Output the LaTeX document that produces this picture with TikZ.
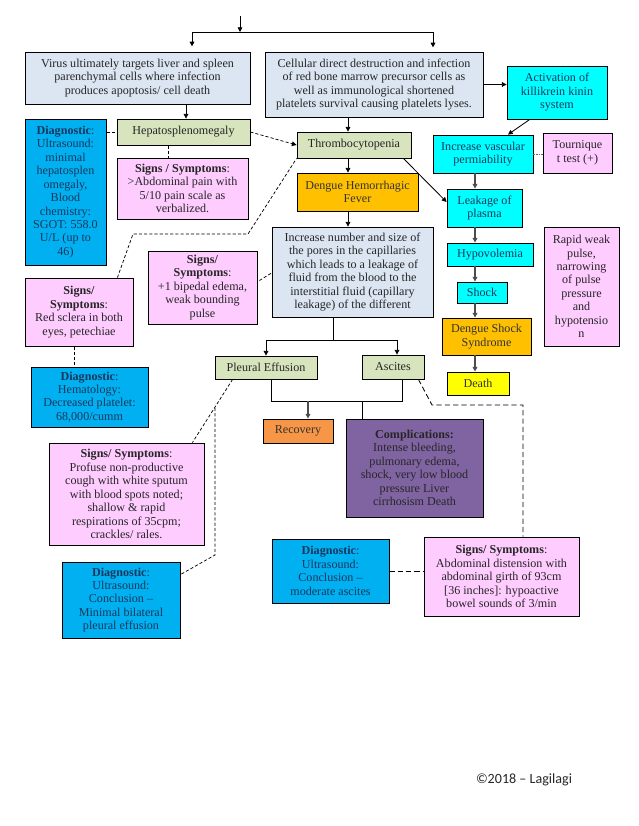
\documentclass[tikz,border=0pt]{standalone}
\usepackage{fontspec}
\setmainfont{Liberation Serif}
\newfontfamily\footfont{Carlito}
\usetikzlibrary{arrows.meta,calc}
\definecolor{bgray}{HTML}{DCE6F2}
\definecolor{lgreen}{HTML}{D7E4BD}
\definecolor{lpink}{HTML}{FFCCFF}
\definecolor{dblue}{HTML}{00B0F0}
\definecolor{ccyan}{HTML}{00FFFF}
\definecolor{gold}{HTML}{FFC000}
\definecolor{lorange}{HTML}{F79646}
\definecolor{purp}{HTML}{8064A2}
\definecolor{yel}{HTML}{FFFF00}
\definecolor{txt}{HTML}{262626}
\definecolor{btxt}{HTML}{17375E}
\newcommand\bx[7]{\node[#6, minimum width={(#4-#2)*0.959pt}, minimum height={(#5-#3)*0.959pt}] (#1) at ({(#2+#4)/2},{(#3+#5)/2}) {#7};}
\begin{document}
\begin{tikzpicture}[x=0.959pt,y=-0.959pt,
  base/.style={draw=black, line width=0.8pt, inner sep=1pt, align=center, text=txt, font=\fontsize{11.6}{12.9}\selectfont},
  gbox/.style={base, fill=bgray},
  grbox/.style={base, fill=lgreen},
  pbox/.style={base, fill=lpink},
  dbox/.style={base, fill=dblue, text=btxt},
  cbox/.style={base, fill=ccyan, text=btxt},
  obox/.style={base, fill=gold, text=black!80},
  rbox/.style={base, fill=lorange, text=black!80},
  vbox/.style={base, fill=purp, text=black!85},
  ybox/.style={base, fill=yel, text=black!80},
  arr/.style={line width=0.8pt, -{Triangle[length=4.5pt,width=4.5pt]}},
  garr/.style={line width=1.3pt, draw=black!70, -{Triangle[length=4.5pt,width=4.5pt]}},
  con/.style={line width=0.8pt},
  dsh/.style={line width=0.7pt, dash pattern=on 3pt off 2pt},
  dsharr/.style={dsh, -{Triangle[length=4.5pt,width=4.5pt]}},
  ldsh/.style={line width=0.8pt, dash pattern=on 5pt off 3pt},
  dot/.style={line width=0.5pt, draw=black!60, dash pattern=on 1.5pt off 1pt}
]
\useasboundingbox (0,0) rectangle (638,826);

% boxes
\bx{box1}{25}{52}{250}{104}{gbox}{Virus ultimately targets liver and spleen\\parenchymal cells where infection\\produces apoptosis/ cell death}
\bx{box2}{265}{52}{483}{117}{gbox}{Cellular direct destruction and infection\\of red bone marrow precursor cells as\\well as immunological shortened\\platelets survival causing platelets lyses.}
\bx{act}{507}{66}{607}{119}{cbox}{Activation of\\killikrein kinin\\system}
\bx{hep}{117}{119}{250}{145}{grbox}{Hepatosplenomegaly}
\bx{diag1}{25}{119}{106}{265}{dbox}{\textbf{Diagnostic}:\\Ultrasound:\\minimal\\hepatosplen\\omegaly,\\Blood\\chemistry:\\SGOT: 558.0\\U/L (up to\\46)}
\bx{signs1}{117}{158}{248}{219}{pbox}{\textbf{Signs / Symptoms}:\\>Abdominal pain with\\5/10 pain scale as\\verbalized.}
\bx{thrombo}{297}{132}{411}{158}{grbox}{Thrombocytopenia}
\bx{dhf}{297}{173}{418}{211}{obox}{Dengue Hemorrhagic\\Fever}
\bx{inc}{272}{227}{433}{317}{gbox}{Increase number and size of\\the pores in the capillaries\\which leads to a leakage of\\fluid from the blood to the\\interstitial fluid (capillary\\leakage) of the different}
\bx{incvasc}{433}{135}{533}{173}{cbox}{Increase vascular\\permiability}
\bx{tourn}{543}{133}{612}{173}{pbox}{Tournique\\t test (+)}
\bx{leak}{447}{189}{522}{227}{cbox}{Leakage of\\plasma}
\bx{hypo}{447}{243}{533}{266}{cbox}{Hypovolemia}
\bx{shock}{457}{282}{507}{303}{cbox}{Shock}
\bx{rapid}{544}{227}{619}{346}{pbox}{Rapid weak\\pulse,\\narrowing\\of pulse\\pressure\\and\\hypotensio\\n}
\bx{dss}{442}{318}{531}{355}{obox}{Dengue Shock\\Syndrome}
\bx{death}{447}{372}{509}{395}{ybox}{Death}
\bx{signs2}{25}{278}{133}{346}{pbox}{\textbf{Signs/}\\\textbf{Symptoms}:\\Red sclera in both\\eyes, petechiae}
\bx{diag2}{31}{367}{148}{427}{dbox}{\textbf{Diagnostic}:\\Hematology:\\Decreased platelet:\\68,000/cumm}
\bx{signs3}{148}{251}{257}{324}{pbox}{\textbf{Signs/}\\\textbf{Symptoms}:\\+1 bipedal edema,\\weak bounding\\pulse}
\bx{pleural}{215}{356}{317}{379}{grbox}{Pleural Effusion}
\bx{asc}{362}{355}{424}{379}{grbox}{Ascites}
\bx{rec}{263}{419}{333}{443}{rbox}{Recovery}
\bx{comp}{346}{419}{483}{517}{vbox}{\textbf{Complications:}\\Intense bleeding,\\pulmonary edema,\\shock, very low blood\\pressure Liver\\cirrhosism Death}
\bx{signs5}{49}{443}{204}{545}{pbox}{\textbf{Signs/ Symptoms}:\\Profuse non-productive\\cough with white sputum\\with blood spots noted;\\shallow \& rapid\\respirations of 35cpm;\\crackles/ rales.}
\bx{diag5}{62}{562}{180}{638}{dbox}{\textbf{Diagnostic}:\\Ultrasound:\\Conclusion –\\Minimal bilateral\\pleural effusion}
\bx{diag4}{272}{539}{389}{603}{dbox}{\textbf{Diagnostic}:\\Ultrasound:\\Conclusion –\\moderate ascites}
\bx{signs4}{424}{537}{579}{616}{pbox}{\textbf{Signs/ Symptoms}:\\Abdominal distension with\\abdominal girth of 93cm\\{[36 inches]}: hypoactive\\bowel sounds of 3/min}
\node[font=\footfont\fontsize{13.5}{15}\selectfont, text=black!85, inner sep=0pt] (copy) at (524,780) {©2018 – Lagilagi};

% coordinates
\coordinate (t0) at (240,16);
\coordinate (t1) at (240,32);
\coordinate (tl) at (192,32);
\coordinate (tr) at (433,32);
\coordinate (hx) at (186,0);
\coordinate (tx) at (348,0);
\coordinate (cx) at (475,0);
\coordinate (s1x) at (168,0);
\coordinate (s2x) at (74,0);
\coordinate (sp) at (333,340);
\coordinate (jl) at (271,401);
\coordinate (jr) at (402,401);
\coordinate (jm) at (308,401);
\coordinate (jc) at (362,401);
\coordinate (w1) at (133,234);
\coordinate (w2) at (248,234);
\coordinate (p1) at (215,408);
\coordinate (p2) at (215,555);
\coordinate (a1) at (432,405);
\coordinate (a2) at (523,405);

% top
\draw[arr] (t0) -- (t1);
\draw[con] (tl) -- (tr);
\draw[arr, shorten >=5pt] (tl) -- (tl |- box1.north);
\draw[arr, shorten >=4pt] (tr) -- (tr |- box2.north);
\draw[arr] (hx |- box1.south) -- (hx |- hep.north);
\draw[arr] (box2.east) -- (box2.east -| act.west);
\draw[arr] ($(act.south west)!0.23!(act.south east)$) -- ($(incvasc.north)+(25,0)$);
\draw[arr] (tx |- box2.south) -- (tx |- thrombo.north);
\draw[arr] (tx |- thrombo.south) -- (tx |- dhf.north);
\draw[arr] (tx |- dhf.south) -- (tx |- inc.north);
\draw[arr] ($(thrombo.south east)+(-8,0)$) -- ($(leak.west)+(0,-6)$);
\draw[dsharr] (hep.east) -- (thrombo.west);
\draw[dsh] (diag1.east |- hep.west) -- (hep.west);
\draw[dsh] (s1x |- hep.south) -- (s1x |- signs1.north);
\draw[dsh] ($(signs2.north east)+(-16,0)$) -- (w1) -- (w2) -- (thrombo.south west);
\draw[dsh] (s2x |- signs2.south) -- (s2x |- diag2.north);
\draw[dsh] ($(signs3.east)+(2,-7)$) -- ($(inc.west)+(0,1)$);

% cyan column
\draw[garr] (cx |- incvasc.south) -- (cx |- leak.north);
\draw[garr] (cx |- leak.south) -- (cx |- hypo.north);
\draw[garr] (cx |- hypo.south) -- (cx |- shock.north);
\draw[garr] (cx |- shock.south) -- (cx |- dss.north);
\draw[garr] (cx |- dss.south) -- (cx |- death.north);
\draw[dot] (incvasc.east) -- (incvasc.east -| tourn.west);
\draw[dot] ($(hypo.east)+(0,-4)$) -- ($(hypo.east)+(0,-4)$ -| rapid.west);

% split to pleural / ascites
\draw[con] (inc.south -| sp) -- (sp);
\draw[arr] (sp) -| (pleural.north);
\draw[arr] (sp) -| ($(asc.north)+(4,0)$);
\draw[con] (pleural.south -| jl) -- (jl) -- (jr) -- (asc.south -| jr);
\draw[garr] (jm) -- (jm |- rec.north);
\draw[con] (jc) -- (jc |- comp.north);

% pleural dashed
\draw[dsh] ($(pleural.south west)+(18,0)$) -- ($(signs5.north east)+(-12,0)$);
\draw[dsh] (p1) -- (p2) -- ($(diag5.north east)+(0,13)$);

% ascites dashed
\draw[ldsh] ($(asc.south east)+(-6,0)$) -- (a1) -- (a2) -- (a2 |- signs4.north);
\draw[ldsh] (diag4.east) -- (diag4.east -| signs4.west);
\end{tikzpicture}
\end{document}
